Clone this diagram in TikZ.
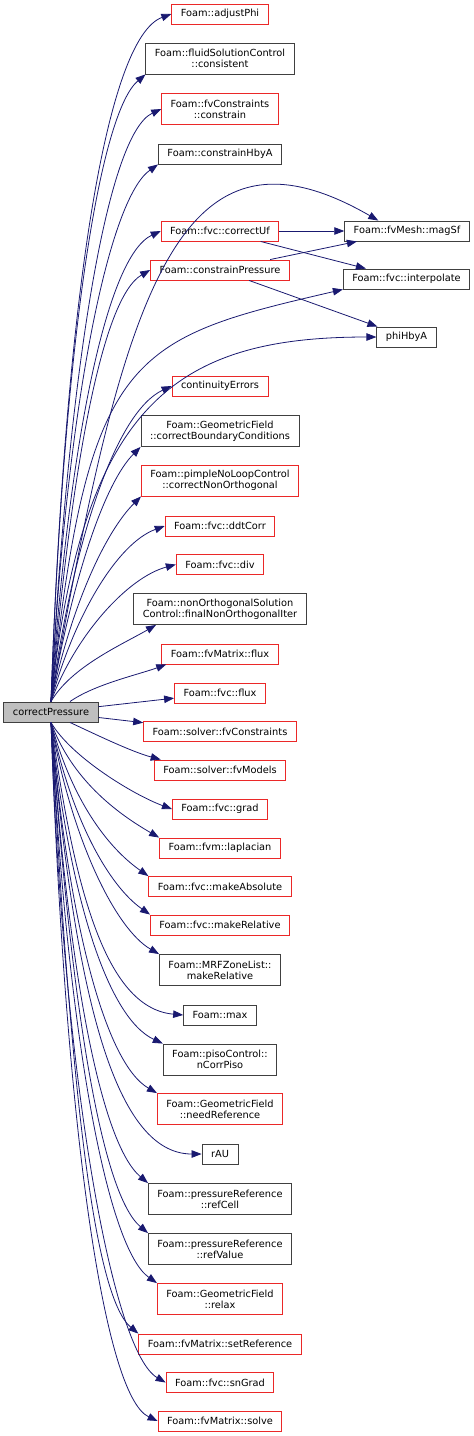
\documentclass[tikz,border=0pt]{standalone}
\usepackage{fontspec}
\setmainfont{DejaVu Sans}
\usetikzlibrary{arrows.meta}

\definecolor{callblue}{RGB}{25,25,112}
\definecolor{callred}{RGB}{235,40,40}
\definecolor{callgray}{RGB}{64,64,64}
\definecolor{rootgray}{RGB}{191,191,191}

\tikzset{
  fn/.style={draw=callgray, line width=0.9pt, inner xsep=9pt, inner ysep=0pt,
    minimum height=20pt, align=center, font=\fontsize{9.8}{11}\selectfont},
  fnred/.style={fn, draw=callred},
  twoline/.style={minimum height=31pt},
  call/.style={->, draw=callblue, line width=0.8pt},
}

\begin{document}
\begin{tikzpicture}[x=1pt, y=1pt, >={Triangle[length=10pt,width=7.5pt]}]
    \useasboundingbox (0,0) rectangle (474,-1436);

    % caller
    \node[fn, fill=rootgray] (correctPressure) at (51,-712) {correctPressure};

    % callees, middle column
    \node[fnred] (adjustPhi) at (220,-14) {Foam::adjustPhi};
    \node[fn, twoline] (consistent) at (220,-58.5) {Foam::fluidSolutionControl\\::consistent};
    \node[fnred, twoline] (constrain) at (220,-109) {Foam::fvConstraints\\::constrain};
    \node[fn] (constrainHbyA) at (220,-154) {Foam::constrainHbyA};
    \node[fnred] (correctUf) at (220,-231) {Foam::fvc::correctUf};
    \node[fnred] (constrainPressure) at (220,-270) {Foam::constrainPressure};
    \node[fnred] (continuityErrors) at (220,-386) {continuityErrors};
    \node[fn, twoline] (correctBC) at (220,-431) {Foam::GeometricField\\::correctBoundaryConditions};
    \node[fnred, twoline] (correctNonOrth) at (220,-480.5) {Foam::pimpleNoLoopControl\\::correctNonOrthogonal};
    \node[fnred] (ddtCorr) at (220,-526) {Foam::fvc::ddtCorr};
    \node[fnred] (div) at (220,-564.5) {Foam::fvc::div};
    \node[fn, twoline] (finalNonOrth) at (220,-609) {Foam::nonOrthogonalSolution\\Control::finalNonOrthogonalIter};
    \node[fnred] (matFlux) at (220,-654) {Foam::fvMatrix::flux};
    \node[fnred] (fvcFlux) at (220,-693) {Foam::fvc::flux};
    \node[fnred] (solverConstraints) at (220,-731.5) {Foam::solver::fvConstraints};
    \node[fnred] (solverModels) at (220,-770) {Foam::solver::fvModels};
    \node[fnred] (grad) at (220,-809) {Foam::fvc::grad};
    \node[fnred] (laplacian) at (220,-848) {Foam::fvm::laplacian};
    \node[fnred] (makeAbsolute) at (220,-886.5) {Foam::fvc::makeAbsolute};
    \node[fnred] (makeRelative) at (220,-925) {Foam::fvc::makeRelative};
    \node[fn, twoline] (mrfRelative) at (220,-970) {Foam::MRFZoneList::\\makeRelative};
    \node[fn] (max) at (220,-1015) {Foam::max};
    \node[fn, twoline] (nCorrPiso) at (220,-1059.5) {Foam::pisoControl::\\nCorrPiso};
    \node[fnred, twoline] (needReference) at (220,-1109) {Foam::GeometricField\\::needReference};
    \node[fn] (rAU) at (220,-1154) {rAU};
    \node[fn, twoline] (refCell) at (220,-1199) {Foam::pressureReference\\::refCell};
    \node[fn, twoline] (refValue) at (220,-1249) {Foam::pressureReference\\::refValue};
    \node[fnred, twoline] (relax) at (220,-1299) {Foam::GeometricField\\::relax};
    \node[fnred] (setReference) at (220,-1344) {Foam::fvMatrix::setReference};
    \node[fnred] (snGrad) at (220,-1382.5) {Foam::fvc::snGrad};
    \node[fnred] (solve) at (220,-1421) {Foam::fvMatrix::solve};

    % callees, right column
    \node[fn] (magSf) at (407,-231) {Foam::fvMesh::magSf};
    \node[fn] (interpolate) at (406.5,-279) {Foam::fvc::interpolate};
    \node[fn] (phiHbyA) at (406.5,-337) {phiHbyA};

    % calls going up
    \foreach \n/\a/\o/\i/\od/\id in {
        adjustPhi/west/88/200/400/70,
        consistent/south west/88/220/360/60,
        constrain/west/87/205/330/60,
        constrainHbyA/south west/87/215/300/60,
        correctUf/west/86/205/260/60,
        constrainPressure/west/85/210/240/55,
        magSf/160/80/150/420/230,
        interpolate/south west/84/193/350/220,
        phiHbyA/west/84/180/300/200,
        continuityErrors/west/82/205/170/60,
        correctBC/south west/80/225/130/50,
        correctNonOrth/south west/78/225/100/50,
        ddtCorr/west/75/200/90/50,
        div/west/70/195/70/50,
        finalNonOrth/194/60/210/40/40} {
      \draw[call] (correctPressure.north) to[out=\o, in=\i, out distance=\od pt, in distance=\id pt] (\n.\a);
    }
    \draw[call] ([xshift=19pt]correctPressure.north) to[out=35, in=200, out distance=30pt, in distance=30pt] (matFlux.191);

    % calls going down
    \draw[call] ([xshift=19pt]correctPressure.south) to[out=-25, in=165, out distance=30pt, in distance=30pt] (solverModels.170);
    \foreach \n/\a/\o/\i/\od/\id in {
        grad/west/-60/160/40/40,
        laplacian/north west/-70/150/60/50,
        makeAbsolute/north west/-75/145/80/50,
        makeRelative/north west/-78/145/100/50,
        mrfRelative/north west/-80/150/120/50,
        max/west/-82/175/160/80,
        nCorrPiso/north west/-84/155/180/60,
        needReference/north west/-85/150/200/60,
        rAU/west/-85/180/260/90,
        refCell/north west/-86/140/260/60,
        refValue/north west/-86/140/290/60,
        relax/north west/-87/145/320/60,
        setReference/north west/-87/140/350/60,
        snGrad/west/-88/150/370/60,
        solve/west/-88/155/400/60} {
      \draw[call] (correctPressure.south) to[out=\o, in=\i, out distance=\od pt, in distance=\id pt] (\n.\a);
    }

    % straight calls
    \draw[call] (correctPressure) -- (fvcFlux);
    \draw[call] (correctPressure) -- (solverConstraints);
    \draw[call] (correctUf) -- (magSf);
    \draw[call] (correctUf) -- (interpolate);
    \draw[call] (constrainPressure) -- (magSf);
    \draw[call] (constrainPressure) -- (phiHbyA);
\end{tikzpicture}
\end{document}
